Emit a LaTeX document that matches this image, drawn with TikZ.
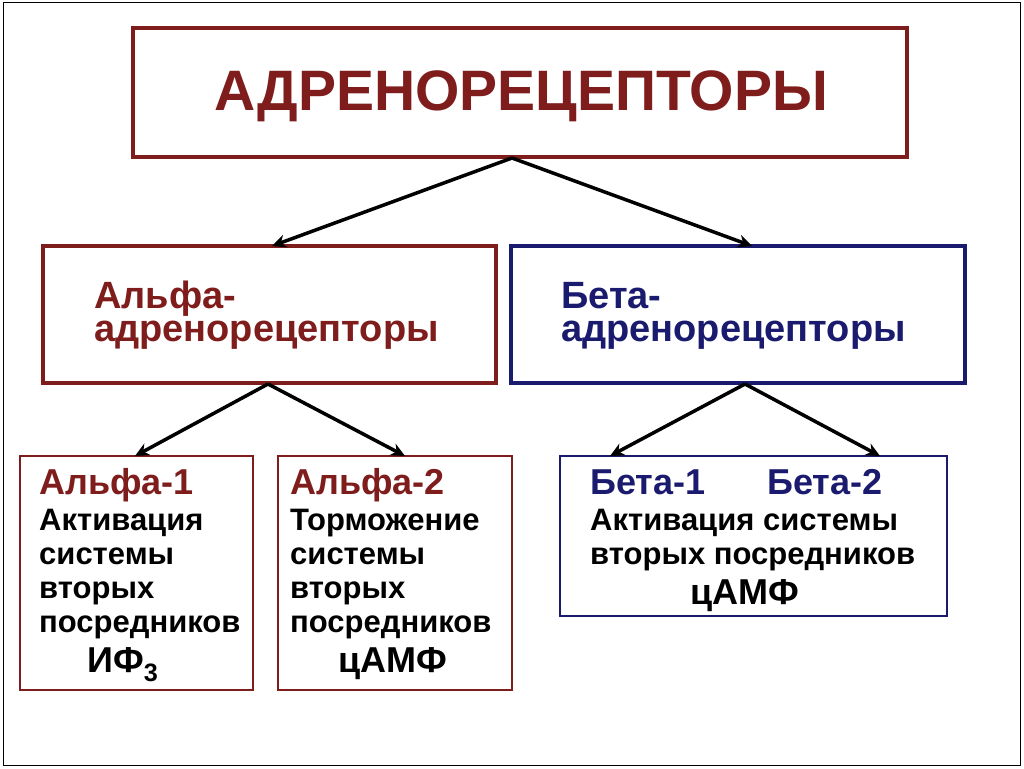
\documentclass[tikz,border=0pt]{standalone}
\usepackage{fontspec}
\setmainfont{Liberation Sans}
\usetikzlibrary{arrows.meta}
\definecolor{dred}{HTML}{7F1D1D}
\definecolor{dnavy}{HTML}{1A1A6E}
\begin{document}
\begin{tikzpicture}[x=1pt,y=-1pt,
 box/.style={draw=dred,line width=3.5pt},
 bbox/.style={draw=dnavy,line width=3.5pt},
 sbox/.style={draw=dred,line width=2.6pt},
 sbbox/.style={draw=dnavy,line width=2.6pt},
 arr/.style={line width=3.5pt,-{Stealth[length=14pt,width=13pt]}},
 txt/.style={font=\bfseries\fontsize{31}{34}\selectfont,inner sep=0pt,anchor=base west},
 mid/.style={txt,font=\bfseries\fontsize{38}{40}\selectfont},
 head/.style={txt,font=\bfseries\fontsize{36}{40}\selectfont}]
\useasboundingbox (0,0) rectangle (1024,768);
\fill[white] (0,0) rectangle (1024,768);
\draw[line width=1pt] (3,3) rectangle (1020,765);
\draw[box] (133,28) rectangle (907,157);
\node[txt,font=\bfseries\fontsize{57}{60}\selectfont,text=dred] (top) at (214,110) {АДРЕНОРЕЦЕПТОРЫ};
\coordinate (tb) at (512,158);
\draw[box] (43,246) rectangle (496,383);
\node[mid,text=dred] (al1) at (94,308) {Альфа-};
\node[mid,text=dred] (al2) at (94,341) {адренорецепторы};
\draw[bbox] (511,246) rectangle (965,383);
\node[mid,text=dnavy] (be1) at (561,308) {Бета-};
\node[mid,text=dnavy] (be2) at (561,341) {адренорецепторы};
\coordinate (at) at (272,246); \coordinate (bt) at (752,246);
\draw[arr] (tb) -- (at); \draw[arr] (tb) -- (bt);
\draw[sbox] (20,456) rectangle (253,690);
\draw[sbox] (278,456) rectangle (512,690);
\draw[sbbox] (560,456) rectangle (947,616);
\coordinate (ab) at (268,384); \coordinate (bb) at (745,384);
\coordinate (a1) at (135,456); \coordinate (a2) at (405,456);
\coordinate (b1) at (610,456); \coordinate (b2) at (880,456);
\draw[arr] (ab) -- (a1); \draw[arr] (ab) -- (a2);
\draw[arr] (bb) -- (b1); \draw[arr] (bb) -- (b2);
\node[head,text=dred] (t1) at (39,494) {Альфа-1};
\node[txt] (t1a) at (39,530) {Активация};
\node[txt] (t1b) at (39,564) {системы};
\node[txt] (t1d) at (39,598) {вторых};
\node[txt] (t1e) at (39,632) {посредников};
\node[head] (t1c) at (87,672) {ИФ$_{\mathbf 3}$};
\node[head,text=dred] (t2) at (290,494) {Альфа-2};
\node[txt] (t2a) at (290,530) {Торможение};
\node[txt] (t2b) at (290,564) {системы};
\node[txt] (t2d) at (290,598) {вторых};
\node[txt] (t2e) at (290,632) {посредников};
\node[head] (t2c) at (338,672) {цАМФ};
\node[head,text=dnavy] (t3) at (590,494) {Бета-1\hspace{62pt}Бета-2};
\node[txt] (t3a) at (590,530) {Активация системы};
\node[txt] (t3b) at (590,564) {вторых посредников};
\node[head] (t3c) at (690,604) {цАМФ};
\end{tikzpicture}
\end{document}
